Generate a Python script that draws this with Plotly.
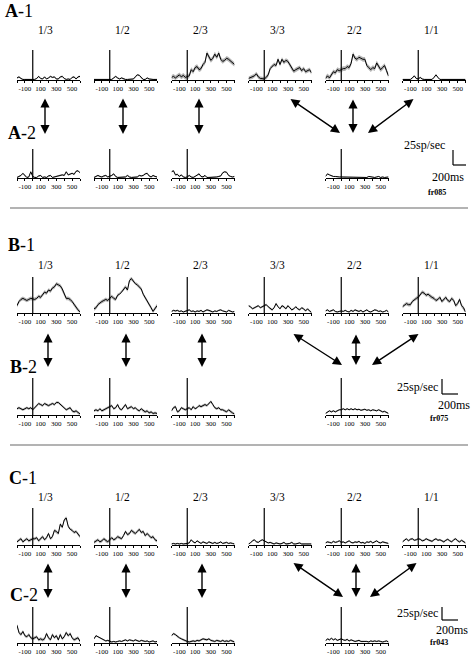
import plotly.graph_objects as go

W, H = 474, 657
FONT = "Liberation Serif"

# ---------------- data (spikes/sec per 25 ms bin) ----------------
BIN_MS = [-200, -175, -150, -125, -100, -75, -50, -25, 0, 25, 50, 75, 100, 125, 150, 175,
          200, 225, 250, 275, 300, 325, 350, 375, 400, 425, 450, 475, 500, 525, 550, 575, 600]
STIM_MS = 0
TICK_VALS = [-200, -100, 0, 100, 200, 300, 400, 500, 600]
TICK_TEXT = ["", "-100", "", "100", "", "300", "", "500", ""]

COL_TITLES = ["1/3", "1/2", "2/3", "3/3", "2/2", "1/1"]
ROW_LABELS = ["A", "A", "B", "B", "C", "C"]
ROW_NUMS = ["1", "2", "1", "2", "1", "2"]
UNIT_IDS = ["fr085", "fr075", "fr043"]
SCALE_Y_TEXT = "25sp/sec"
SCALE_X_TEXT = "200ms"

# A-1
A1_13 = [4,6,3,1,1,1,1,1,1,1,3,7,3,2,6,2,4,7,5,6,2,2,6,7,3,1,2,1,5,6,2,6,7]
A1_12 = [1,1,1,1,1,1,1,0,0,1,4,7,4,2,4,2,1,1,1,1,2,6,10,9,4,1,1,4,2,1,1,1,1]
A1_23 = [5,7,4,8,10,6,9,5,6,8,20,16,24,26,20,22,30,34,52,44,38,42,50,44,52,40,36,38,42,40,36,34,30]
A1_33 = [3,5,6,8,12,6,3,2,2,5,10,22,27,30,28,40,30,40,34,38,36,30,22,17,20,22,24,18,22,16,18,20,14]
A1_22 = [3,8,4,10,16,14,20,18,20,22,22,26,24,32,50,42,40,44,42,40,40,28,24,20,24,22,33,26,20,24,28,18,8]
A1_11 = [1,1,1,1,1,4,8,3,2,5,2,1,1,1,1,1,5,10,5,1,1,1,1,1,1,1,1,1,1,1,1,1,1]
A1_SEM = [1.5, 1.5, 4.5, 4, 4.5, 1.5]
# A-2
A2_13 = [1,3,5,9,4,1,2,12,3,1,1,4,5,1,2,1,4,5,1,2,3,4,5,6,5,12,6,8,9,7,13,14,10]
A2_12 = [1,3,5,3,2,4,5,2,3,5,8,3,1,1,1,1,2,5,2,1,1,1,2,5,4,5,8,9,4,2,5,3,2]
A2_23 = [12,14,6,7,3,6,2,1,2,5,2,1,3,6,8,3,2,5,1,1,1,1,1,2,3,4,10,12,11,5,3,2,3]
A2_22 = [3,8,6,4,3,3,2,2,2,2,1,2,2,1,2,1,2,1,2,1,2,1,3,2,2,1,2,3,1,2,1,2,2]
A2_SEM = [1.5, 1.5, 1.5, 1]
# B-1
B1_13 = [14,22,26,28,26,24,26,28,27,26,28,32,30,35,40,38,44,42,48,50,56,54,52,46,36,28,28,26,22,16,10,6,2]
B1_12 = [8,10,16,20,22,24,26,24,28,32,28,26,34,36,40,46,50,44,62,66,60,56,54,50,46,36,30,24,16,10,3,8,14]
B1_23 = [3,5,4,5,3,4,2,3,5,6,3,4,2,4,3,5,2,4,6,5,3,2,4,3,5,6,4,3,2,5,4,2,3]
B1_33 = [14,12,8,10,12,14,10,12,14,16,12,8,6,10,18,12,8,14,12,8,14,10,6,8,12,8,6,10,8,4,8,4,1]
B1_22 = [4,6,3,4,6,3,2,3,4,3,5,3,2,5,3,6,4,3,5,2,4,6,3,2,4,6,5,3,4,2,3,5,2]
B1_11 = [12,16,18,16,16,22,26,28,30,36,40,38,34,36,32,30,28,24,26,30,22,26,30,24,22,28,24,14,18,26,14,10,2]
B1_SEM = [3.5, 3.5, 1.5, 2, 1.5, 3.5]
# B-2
B2_13 = [12,14,12,10,12,14,12,14,10,14,18,22,20,18,22,20,18,20,22,20,24,24,20,18,14,10,12,14,8,6,8,4,2]
B2_12 = [8,10,8,12,8,10,12,14,16,18,12,14,20,12,10,16,20,12,14,16,12,14,10,8,12,8,6,8,4,6,3,4,3]
B2_23 = [8,14,16,6,8,14,12,10,12,14,10,16,12,14,18,16,18,20,18,22,26,20,14,12,14,10,10,8,6,10,6,4,2]
B2_22 = [3,6,8,6,8,6,8,10,10,12,10,12,10,12,10,12,10,11,9,10,11,9,10,8,10,9,8,10,8,6,7,5,3]
B2_SEM = [2.5, 2.5, 2.5, 1.5]
# C-1
C1_13 = [6,10,12,6,10,12,8,10,12,12,14,8,12,16,10,14,22,12,16,28,26,22,40,34,48,52,36,30,28,24,26,20,16]
C1_12 = [5,8,10,6,8,12,8,6,10,14,10,12,16,14,12,18,26,20,22,28,24,22,26,30,24,26,18,22,18,14,16,10,8]
C1_23 = [2,3,2,3,2,3,2,2,3,4,10,6,4,8,5,3,6,4,3,6,4,3,5,3,4,6,3,4,5,3,4,3,2]
C1_33 = [2,4,8,10,6,5,8,10,8,6,4,5,3,2,4,3,2,3,5,2,2,3,5,2,2,3,4,2,2,3,2,3,2]
C1_22 = [4,6,5,4,7,5,6,8,5,6,4,6,8,5,4,6,5,7,4,5,3,6,5,7,4,6,8,5,4,6,5,4,3]
C1_11 = [6,10,12,8,11,12,9,10,12,11,8,9,12,10,8,7,10,12,9,10,8,6,9,11,8,6,10,12,8,6,9,7,4]
C1_SEM = [3, 3, 1.5, 1.5, 1.5, 2]
# C-2
C2_13 = [34,20,16,22,14,12,16,10,8,10,12,6,8,6,8,18,10,6,16,10,14,6,16,8,12,20,14,18,10,6,8,10,3]
C2_12 = [8,14,12,10,8,6,4,5,3,2,3,2,3,4,3,5,6,4,6,5,4,6,5,3,5,4,3,4,2,3,4,2,3]
C2_23 = [14,18,16,12,10,8,6,4,3,2,3,4,3,5,4,6,8,7,6,8,5,4,3,5,4,3,5,3,4,3,5,3,2]
C2_22 = [4,8,6,9,6,8,5,7,8,6,5,7,4,6,5,3,4,5,3,3,4,3,2,4,3,4,3,4,3,2,3,4,2]
C2_SEM = [3, 1.5, 2, 1.5]

ROWS = [
    ([A1_13, A1_12, A1_23, A1_33, A1_22, A1_11], A1_SEM, [0, 1, 2, 3, 4, 5]),
    ([A2_13, A2_12, A2_23, A2_22], A2_SEM, [0, 1, 2, 4]),
    ([B1_13, B1_12, B1_23, B1_33, B1_22, B1_11], B1_SEM, [0, 1, 2, 3, 4, 5]),
    ([B2_13, B2_12, B2_23, B2_22], B2_SEM, [0, 1, 2, 4]),
    ([C1_13, C1_12, C1_23, C1_33, C1_22, C1_11], C1_SEM, [0, 1, 2, 3, 4, 5]),
    ([C2_13, C2_12, C2_23, C2_22], C2_SEM, [0, 1, 2, 4]),
]

# ---------------- geometry (pixels) ----------------
COL_LEFT = [17, 94, 171.5, 248.5, 325.5, 402.5]
COL_W = 63
ROW_BASE = [80, 178, 313, 415, 545, 643]
ROW_TOP = [50, 149, 277, 378, 508, 607]
ROW_YMAX = [58, 56, 69, 71, 71, 69]
ROW_LABEL_Y = [11, 133, 245, 367, 478, 595]
ROW_LABEL_X = [3, 6, 6, 8, 7, 8]
TITLE_Y = [30, 265, 497]
VARROW_X = [[45, 123, 199], [48, 126, 202], [48, 126, 202]]
VARROW_Y = [(97, 134), (332, 367), (562, 598)]
DARROWS = [
    [(289, 98, 340, 133), (353, 98, 353, 133), (415, 98, 368, 133)],
    [(292, 333, 342, 365), (356, 333, 356, 365), (420, 333, 372, 365)],
    [(292, 562, 343, 597), (356, 562, 356, 597), (418, 562, 370, 597)],
]
SCALE = [  # text_right, text_y, bar_x, bar_top, bar_bot, bar_right, ms_x, ms_y, id_x, id_y
    (447, 145, 453, 150, 165, 466, 448, 177, 437, 192),
    (440, 387, 442, 379, 394, 458, 454, 405, 439, 418),
    (440, 613, 442, 607, 620, 458, 452, 630, 439, 642),
]
SEPARATORS = [208, 445]


def px(x):
    return x / W


def py(y):
    return 1 - y / H


fig = go.Figure()
layout = dict(
    width=W, height=H, margin=dict(l=0, r=0, t=0, b=0),
    paper_bgcolor="white", plot_bgcolor="white", showlegend=False,
    font=dict(family=FONT, color="black"),
)
annotations = []
shapes = []

n = 0
for r, (series, sems, cols) in enumerate(ROWS):
    ymax = ROW_YMAX[r]
    for k, c in enumerate(cols):
        n += 1
        xa = "x" if n == 1 else f"x{n}"
        ya = "y" if n == 1 else f"y{n}"
        vals = series[k]
        sem = sems[k]
        upper = [v + sem for v in vals]
        lower = [max(v - sem, 0) for v in vals]
        fig.add_trace(go.Scatter(
            x=BIN_MS + BIN_MS[::-1], y=upper + lower[::-1], fill="toself",
            fillcolor="#b5b5b5", line=dict(width=0), mode="lines",
            hoverinfo="skip", xaxis=xa, yaxis=ya))
        fig.add_trace(go.Scatter(
            x=BIN_MS, y=vals, mode="lines", line=dict(color="black", width=1),
            xaxis=xa, yaxis=ya))
        fig.add_trace(go.Scatter(
            x=[STIM_MS, STIM_MS], y=[0, ymax], mode="lines",
            line=dict(color="black", width=1.2), xaxis=xa, yaxis=ya))
        left = COL_LEFT[c]
        layout["xaxis" if n == 1 else f"xaxis{n}"] = dict(
            domain=[px(left), px(left + COL_W)], range=[-200, 600],
            anchor=ya, showline=True, linecolor="black", linewidth=1,
            ticks="outside", ticklen=2, tickwidth=1, tickcolor="black",
            tickvals=TICK_VALS, ticktext=TICK_TEXT,
            tickfont=dict(family=FONT, size=7, color="black"),
            showgrid=False, zeroline=False, fixedrange=True)
        layout["yaxis" if n == 1 else f"yaxis{n}"] = dict(
            domain=[py(ROW_BASE[r]), py(ROW_TOP[r])], range=[0, ymax],
            anchor=xa, visible=False, fixedrange=True)

    # row label
    annotations.append(dict(
        x=px(ROW_LABEL_X[r]), y=py(ROW_LABEL_Y[r]), xref="paper", yref="paper",
        xanchor="left", yanchor="middle", showarrow=False,
        text=f"<b>{ROW_LABELS[r]}</b>-{ROW_NUMS[r]}",
        font=dict(family=FONT, size=18, color="black")))

# column titles
for g in range(3):
    for c, t in enumerate(COL_TITLES):
        annotations.append(dict(
            x=px(COL_LEFT[c] + 28.5), y=py(TITLE_Y[g]), xref="paper", yref="paper",
            xanchor="center", yanchor="middle", showarrow=False, text=t,
            font=dict(family=FONT, size=11.5, color="black")))

# arrows
arrow_style = dict(xref="paper", yref="paper", axref="pixel", ayref="pixel", text="",
                   showarrow=True, arrowhead=2, arrowside="end+start", arrowsize=1.3,
                   arrowwidth=1.4, arrowcolor="black", standoff=0, startstandoff=0)
for g in range(3):
    y0, y1 = VARROW_Y[g]
    for x in VARROW_X[g]:
        annotations.append(dict(x=px(x), y=py(y1), ax=0, ay=y0 - y1, **arrow_style))
    for (xt, yt, xh, yh) in DARROWS[g]:
        annotations.append(dict(x=px(xh), y=py(yh), ax=xt - xh, ay=yt - yh, **arrow_style))

# scale bars and unit ids
for g in range(3):
    tr, ty, bx, bt, bb, br, mx, my, ix, iy = SCALE[g]
    annotations.append(dict(x=px(tr), y=py(ty), xref="paper", yref="paper", xanchor="right",
                            yanchor="middle", showarrow=False, text=SCALE_Y_TEXT,
                            font=dict(family=FONT, size=12, color="black")))
    annotations.append(dict(x=px(mx), y=py(my), xref="paper", yref="paper", xanchor="center",
                            yanchor="middle", showarrow=False, text=SCALE_X_TEXT,
                            font=dict(family=FONT, size=12, color="black")))
    annotations.append(dict(x=px(ix), y=py(iy), xref="paper", yref="paper", xanchor="center",
                            yanchor="middle", showarrow=False, text=f"<b>{UNIT_IDS[g]}</b>",
                            font=dict(family=FONT, size=8, color="black")))
    shapes.append(dict(type="line", xref="paper", yref="paper", x0=px(bx), x1=px(bx),
                       y0=py(bt), y1=py(bb), line=dict(color="black", width=1.2)))
    shapes.append(dict(type="line", xref="paper", yref="paper", x0=px(bx), x1=px(br),
                       y0=py(bb), y1=py(bb), line=dict(color="black", width=1.2)))

for sy in SEPARATORS:
    shapes.append(dict(type="line", xref="paper", yref="paper", x0=px(10), x1=px(468),
                       y0=py(sy), y1=py(sy), line=dict(color="#9a9a9a", width=1.5)))

layout["annotations"] = annotations
layout["shapes"] = shapes
fig.update_layout(**layout)
fig.write_html(
    "out.html",
    config={"displayModeBar": False, "staticPlot": True},
    post_script="document.body.style.margin='0';document.body.style.overflow='hidden';",
)
